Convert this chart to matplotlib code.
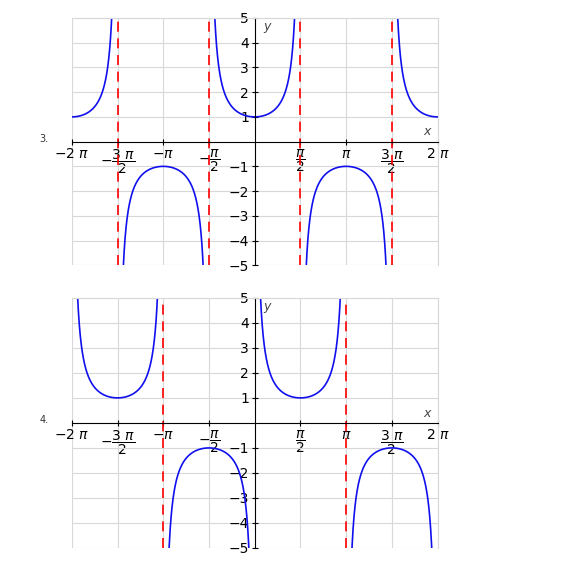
import numpy as np
import matplotlib
matplotlib.use("Agg")
import matplotlib.pyplot as plt

xticks = [-2*np.pi, -1.5*np.pi, -np.pi, -0.5*np.pi, 0.5*np.pi, np.pi, 1.5*np.pi, 2*np.pi]
xlabels = [r'$-2\ \pi$', r'$-\dfrac{3\ \pi}{2}$', r'$-\pi$', r'$-\dfrac{\pi}{2}$',
           r'$\dfrac{\pi}{2}$', r'$\pi$', r'$\dfrac{3\ \pi}{2}$', r'$2\ \pi$']
yticks = [-5, -4, -3, -2, -1, 1, 2, 3, 4, 5]
sec_asym = [-1.5*np.pi, -0.5*np.pi, 0.5*np.pi, 1.5*np.pi]
csc_asym = [-np.pi, np.pi]
labels = ["3.", "4."]

plt.rcParams['mathtext.fontset'] = 'dejavusans'
fig = plt.figure(figsize=(5.61, 5.62), dpi=100)
axes_pos = [[0.128, 0.528, 0.652, 0.44], [0.128, 0.025, 0.652, 0.445]]
x = np.linspace(-2*np.pi, 2*np.pi, 4000)
funcs = [lambda t: 1/np.cos(t), lambda t: 1/np.sin(t)]
asyms = [sec_asym, csc_asym]
for i in range(2):
    ax = fig.add_axes(axes_pos[i])
    y = funcs[i](x)
    y[np.abs(y) > 6] = np.nan
    ax.plot(x, y, color='#1010ee', lw=1.2)
    for a in asyms[i]:
        ax.axvline(a, color='red', ls=(0, (6, 4)), lw=1.2)
    ax.set_xlim(-2*np.pi, 2*np.pi)
    ax.set_ylim(-5, 5)
    ax.set_xticks(xticks)
    ax.set_xticklabels(xlabels, fontsize=7.5, color='#333')
    ax.set_yticks(yticks)
    ax.set_yticklabels([str(v).replace('-', '−') for v in yticks], fontsize=7.5, color='#333')
    ax.grid(True, color='#d8d8d8', lw=0.8)
    for s in ['top', 'right']:
        ax.spines[s].set_color('#d8d8d8')
    ax.spines['left'].set_position(('data', 0))
    ax.spines['bottom'].set_position(('data', 0))
    ax.tick_params(direction='inout', length=4, pad=2)
    ax.set_axisbelow(True)
    ax.text(2*np.pi*0.92, 0.25, 'x', fontsize=9, style='italic', color='#444')
    ax.text(0.3, 4.5, 'y', fontsize=9, style='italic', color='#444')
    ax.text(-2*np.pi - 1.1, 0.1, labels[i], fontsize=7, ha='left', va='center',
            color='#333', clip_on=False)
fig.savefig("out.png", dpi=100)
